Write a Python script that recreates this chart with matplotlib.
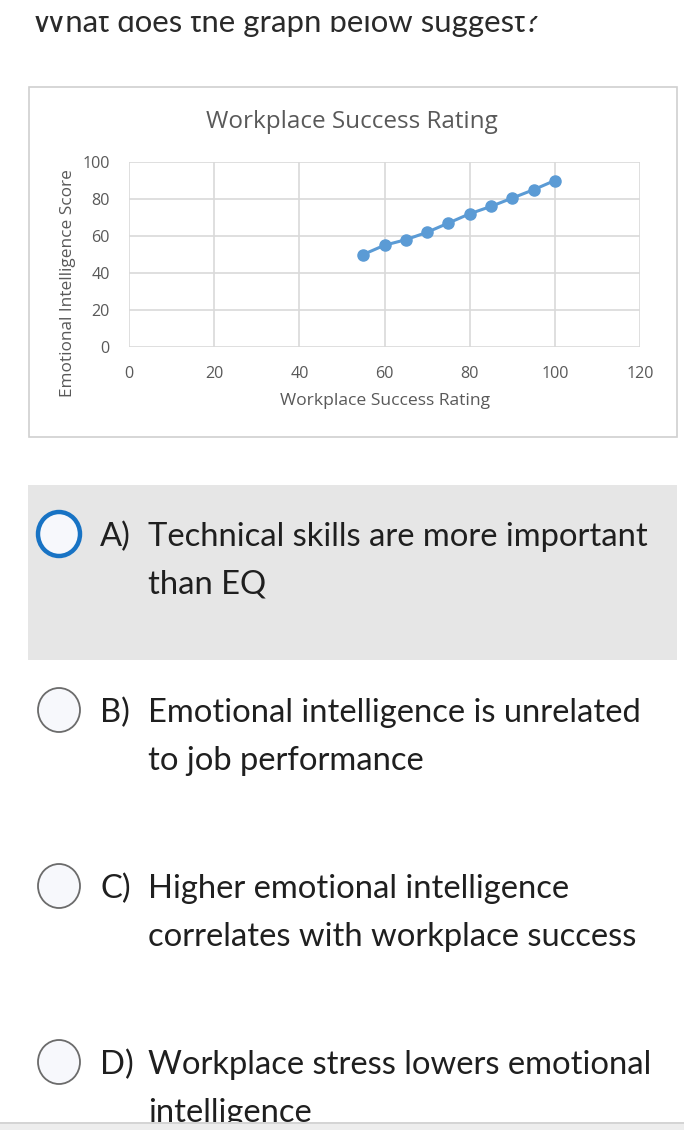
import matplotlib
matplotlib.use("Agg")
import matplotlib.pyplot as plt
from matplotlib.patches import Rectangle, Ellipse

# ---- data ----
success_rating = [55, 60, 65, 70, 75, 80, 85, 90, 95, 100]
eq_score = [50, 55, 58, 62, 67, 72, 76, 80.5, 85, 90]
x_ticks = [0, 20, 40, 60, 80, 100, 120]
y_ticks = [0, 20, 40, 60, 80, 100]
question = "What does the graph below suggest?"
chart_title = "Workplace Success Rating"
x_label = "Workplace Success Rating"
y_label = "Emotional Intelligence Score"
option_letters = ["A)", "B)", "C)", "D)"]
option_lines = [
    ["Technical skills are more important", "than EQ"],
    ["Emotional intelligence is unrelated", "to job performance"],
    ["Higher emotional intelligence", "correlates with workplace success"],
    ["Workplace stress lowers emotional", "intelligence"],
]

W, H = 684, 1130
fig = plt.figure(figsize=(W / 100, H / 100), dpi=100)
fig.patch.set_facecolor("white")

bg = fig.add_axes([0, 0, 1, 1])
bg.set_xlim(0, W)
bg.set_ylim(H, 0)
bg.axis("off")

FONT = "Lato"
TXT = "#1f1f1f"
OPT_FS = 23.6

# question (top part hidden by the page crop)
bg.text(33, 32, question, fontsize=22.4, family=FONT, color="#2a2a2a", va="baseline", ha="left", zorder=1)
bg.add_patch(Rectangle((0, 0), W, 16, facecolor="white", edgecolor="none", zorder=2))

# chart frame
bg.add_patch(Rectangle((29, 87), 648, 350, facecolor="white", edgecolor="#d0d0d0", lw=1.2))

# option A highlight
bg.add_patch(Rectangle((28, 485), 649, 175, facecolor="#e6e6e6", edgecolor="none"))

centers = [537, 713, 889, 1065]
for i, (cy, letter, lines) in enumerate(zip(centers, option_letters, option_lines)):
    if i == 0:
        bg.add_patch(Ellipse((59, cy - 3), 42, 44, facecolor="#f7f8fc", edgecolor="#1873c4", lw=3.2))
    else:
        bg.add_patch(Ellipse((59, cy - 3), 42, 44, facecolor="#f7f8fc", edgecolor="#6b6b6b", lw=1.3))
    bg.text(100, cy, letter, fontsize=OPT_FS, family=FONT, color=TXT, va="center", ha="left")
    bg.text(148, cy, lines[0], fontsize=OPT_FS, family=FONT, color=TXT, va="center", ha="left")
    bg.text(148, cy + 48, lines[1], fontsize=OPT_FS, family=FONT, color=TXT, va="center", ha="left", zorder=1)

# bottom crop shadow
bg.add_patch(Rectangle((0, 1122), W, 2, facecolor="#d4d4d4", edgecolor="none", zorder=3))
bg.add_patch(Rectangle((0, 1124), W, 6, facecolor="#ededed", edgecolor="none", zorder=3))

# chart title and labels
CF = "Open Sans"
bg.text(352, 122, chart_title, fontsize=17.5, family=CF, color="#595959", ha="center", va="center")
bg.text(385, 401, x_label, fontsize=12.6, family=CF, color="#595959", ha="center", va="center")
bg.text(68, 283, y_label, fontsize=12.4, family=CF, color="#595959", ha="center", va="center", rotation=90)

# plot area
x0, x1 = 129, 640
y0, y1 = 162, 347
ax = fig.add_axes([x0 / W, 1 - y1 / H, (x1 - x0) / W, (y1 - y0) / H])
ax.plot(success_rating, eq_score, color="#5b9bd5", lw=2.2, marker="o", ms=8,
        markerfacecolor="#5b9bd5", markeredgecolor="#5b9bd5", zorder=3, clip_on=False)
ax.set_xlim(0, 120)
ax.set_ylim(0, 100)
ax.set_xticks(x_ticks)
ax.set_yticks(y_ticks)
ax.grid(True, color="#d9d9d9", lw=1.2)
for s in ax.spines.values():
    s.set_visible(False)
ax.tick_params(length=0, labelsize=11.6, colors="#595959")
ax.tick_params(axis="y", pad=14)
ax.tick_params(axis="x", pad=14)
for lab in ax.get_xticklabels() + ax.get_yticklabels():
    lab.set_family(CF)
ax.set_facecolor("white")

fig.savefig("out.png", dpi=100, facecolor="white")
